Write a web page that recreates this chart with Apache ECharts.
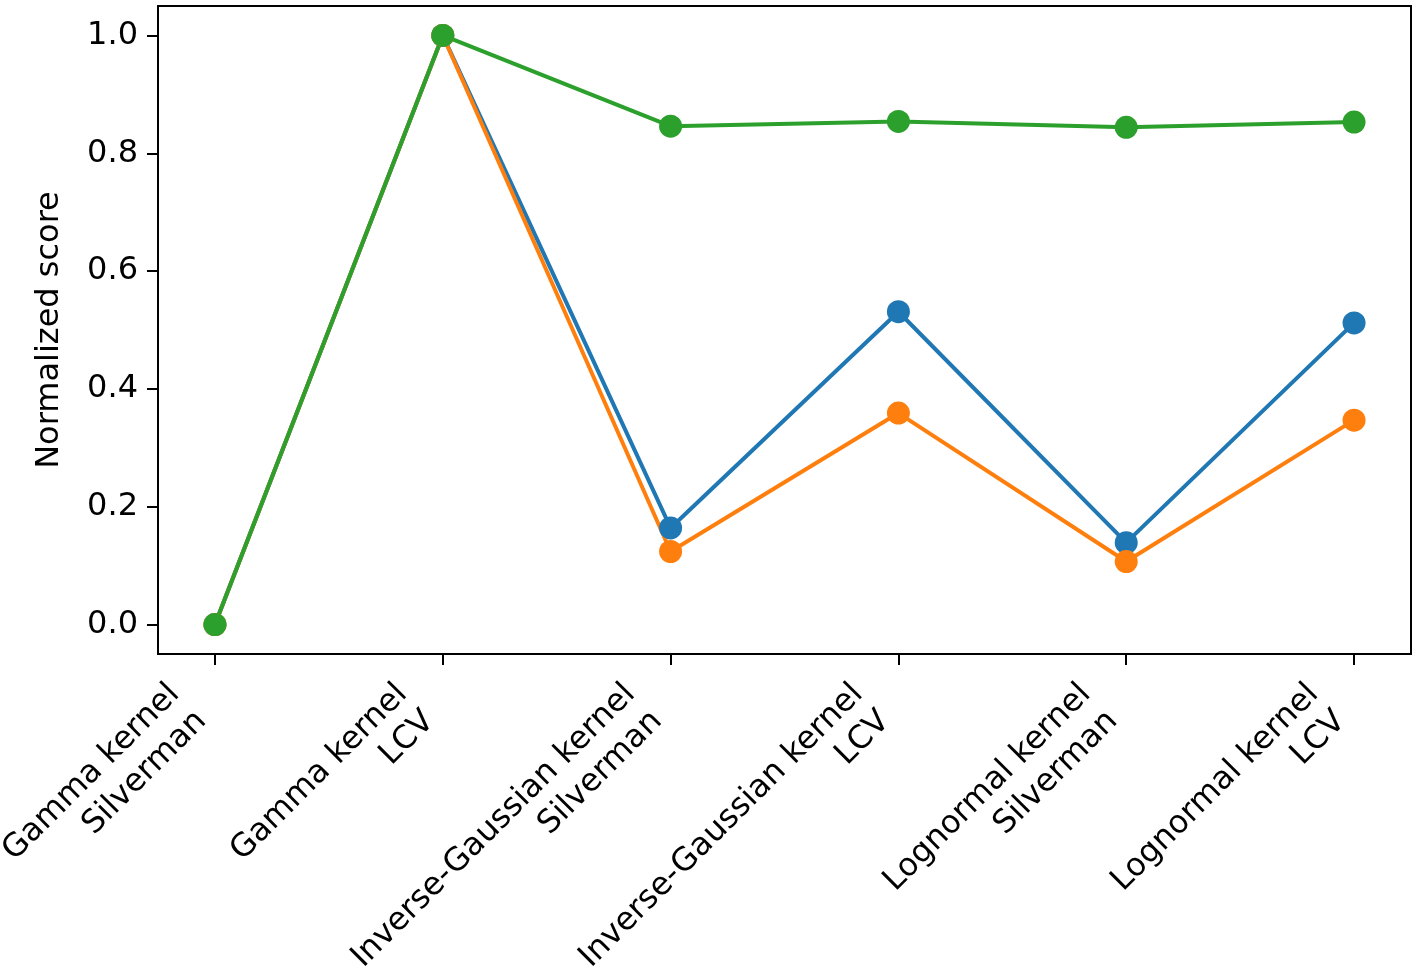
<!DOCTYPE html>
<html>
<head>
<meta charset="utf-8">
<script src="https://cdn.jsdelivr.net/npm/echarts@6/dist/echarts.min.js"></script>
<style>
  html, body { margin: 0; padding: 0; background: #fff; }
  #chart { width: 1417px; height: 977px; }
</style>
</head>
<body>
<div id="chart"></div>
<script>
// ---- data ----
var categories = [
  "Gamma kernel\nSilverman",
  "Gamma kernel\nLCV",
  "Inverse-Gaussian kernel\nSilverman",
  "Inverse-Gaussian kernel\nLCV",
  "Lognormal kernel\nSilverman",
  "Lognormal kernel\nLCV"
];
var blueValues   = [0.0, 1.0, 0.164, 0.531, 0.139, 0.512];
var orangeValues = [0.0, 1.0, 0.124, 0.359, 0.107, 0.347];
var greenValues  = [0.0, 1.0, 0.846, 0.854, 0.844, 0.853];
var yTickValues  = [0.0, 0.2, 0.4, 0.6, 0.8, 1.0];
var yAxisTitle   = "Normalized score";

var FONT = "DejaVu Sans";
var FS = 32;

function toPairs(vals) {
  return vals.map(function (v, i) { return [i, v]; });
}
var xTickValues = categories.map(function (c, i) { return i; });

function lineSeries(name, vals, color) {
  return {
    name: name,
    type: 'line',
    data: toPairs(vals),
    symbol: 'circle',
    symbolSize: 23,
    lineStyle: { color: color, width: 4 },
    itemStyle: { color: color },
    emphasis: { disabled: true },
    z: 2
  };
}

var chart = echarts.init(document.getElementById('chart'), null, { renderer: 'canvas' });
chart.setOption({
  animation: false,
  backgroundColor: '#ffffff',
  textStyle: { fontFamily: FONT, color: '#000' },
  grid: {
    left: 158, right: 6, top: 6, bottom: 323,
    containLabel: false,
    outerBoundsMode: 'none',
    show: true,
    borderColor: '#000',
    borderWidth: 2,
    backgroundColor: 'transparent'
  },
  xAxis: {
    type: 'value',
    min: -0.25,
    max: 5.25,
    splitLine: { show: false },
    axisLine: { show: true, onZero: false, lineStyle: { color: '#000', width: 2 } },
    axisTick: { show: true, customValues: xTickValues, length: 11, lineStyle: { color: '#000', width: 2 } },
    axisLabel: {
      customValues: xTickValues,
      rotate: 45,
      margin: 22,
      fontSize: FS,
      fontFamily: FONT,
      color: '#000',
      lineHeight: 38,
      padding: [0, 38, 0, 0],
      formatter: function (v) { return categories[Math.round(v)] || ''; }
    }
  },
  yAxis: {
    type: 'value',
    min: -0.05,
    max: 1.05,
    name: yAxisTitle,
    nameLocation: 'middle',
    nameGap: 92,
    nameTextStyle: { fontSize: FS, fontFamily: FONT, color: '#000' },
    splitLine: { show: false },
    axisLine: { show: true, onZero: false, lineStyle: { color: '#000', width: 2 } },
    axisTick: { show: true, customValues: yTickValues, length: 11, lineStyle: { color: '#000', width: 2 } },
    axisLabel: {
      customValues: yTickValues,
      margin: 20,
      fontSize: FS,
      fontFamily: FONT,
      color: '#000',
      formatter: function (v) { return v.toFixed(1); }
    }
  },
  series: [
    lineSeries('Series 1', blueValues, '#1f77b4'),
    lineSeries('Series 2', orangeValues, '#ff7f0e'),
    lineSeries('Series 3', greenValues, '#2ca02c')
  ]
});
</script>
</body>
</html>
